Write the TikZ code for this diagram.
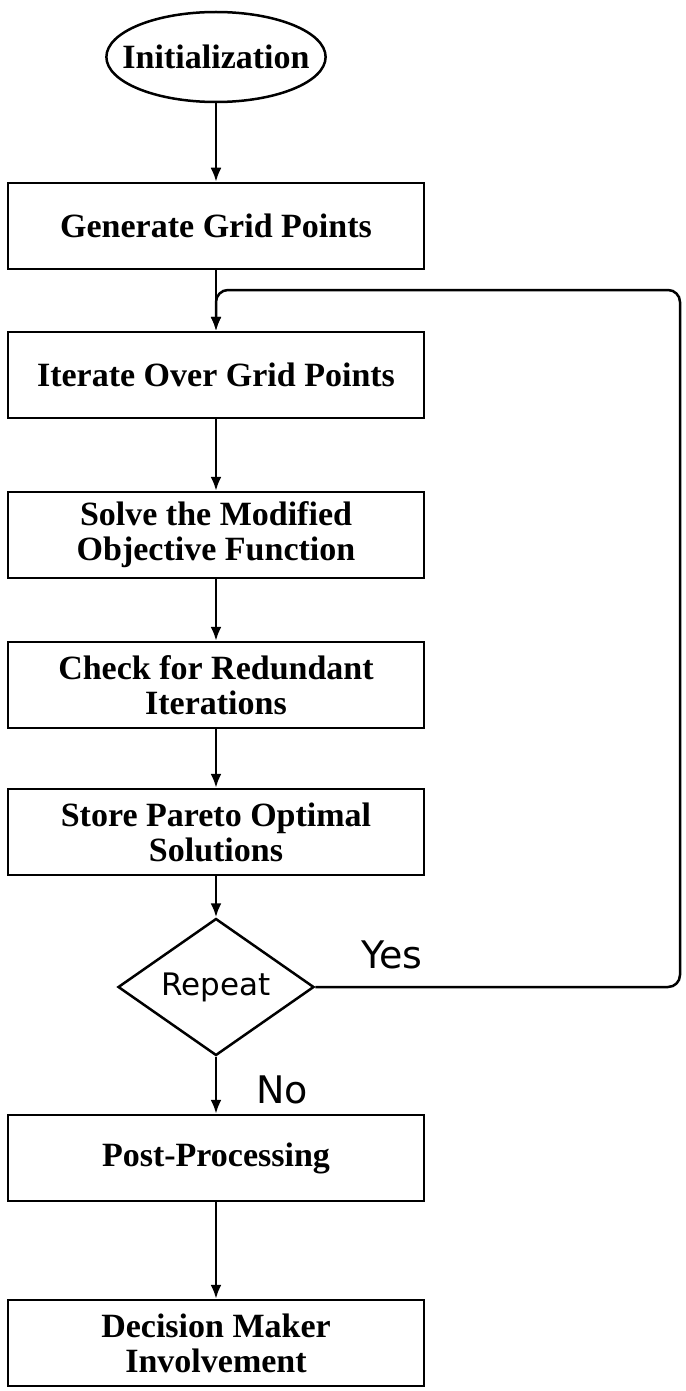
\documentclass[tikz,border=0pt]{standalone}
\usepackage{fontspec}
\setmainfont{Liberation Serif}
\newfontfamily\labelfont{DejaVu Sans}
\usetikzlibrary{shapes.geometric,positioning,arrows.meta}

\tikzset{
  stepbox/.style={draw, line width=2.5pt, minimum width=416pt, minimum height=86pt,
    align=center, font=\fontsize{34}{35}\selectfont\bfseries},
  flow/.style={line width=2.5pt, -{Latex[length=14pt,width=11pt]}},
}

\begin{document}
\begin{tikzpicture}[x=1pt,y=-1pt]
				\useasboundingbox (0,0) rectangle (685,1391);
				
				\node[draw, ellipse, line width=2.5pt, minimum height=90pt, inner xsep=-16pt, inner ysep=0pt,
				  font=\fontsize{34}{35}\selectfont\bfseries] (init) at (216,57) {Initialization};
				\node[stepbox] (grid) at (216,226) {Generate Grid Points};
				\node[stepbox] (iter) at (216,375) {Iterate Over Grid Points};
				\node[stepbox] (solve) at (216,535) {Solve the Modified\\Objective Function};
				\node[stepbox] (check) at (216,685) {Check for Redundant\\Iterations};
				\node[stepbox] (store) at (216,832) {Store Pareto Optimal\\Solutions};
				\node[draw, diamond, line width=2.5pt, aspect=1.45, inner sep=0pt, minimum width=196pt,
				  minimum height=137pt, font=\labelfont\fontsize{31}{34}\selectfont] (rep) at (216,987) {Repeat};
				\node[stepbox] (post) at (216,1158) {Post-Processing};
				\node[stepbox] (dm) at (216,1343) {Decision Maker\\Involvement};
				
				\coordinate (loop) at (216,290);
				
				\draw[flow] (init) -- (grid);
				\draw[flow] (grid) -- (iter);
				\draw[flow] (iter) -- (solve);
				\draw[flow] (solve) -- (check);
				\draw[flow] (check) -- (store);
				\draw[flow] (store) -- (rep);
				\draw[flow] (rep) -- (post);
				\draw[flow] (post) -- (dm);
				\draw[flow, rounded corners=12pt] (rep.east) -- (680,987) -- (680,290) -- (loop) -- (iter.north);
				
				\node[font=\labelfont\fontsize{38}{42}\selectfont] (yes) at (392,955) {Yes};
				\node[font=\labelfont\fontsize{38}{42}\selectfont] (no) at (282,1090) {No};
\end{tikzpicture}
\end{document}
